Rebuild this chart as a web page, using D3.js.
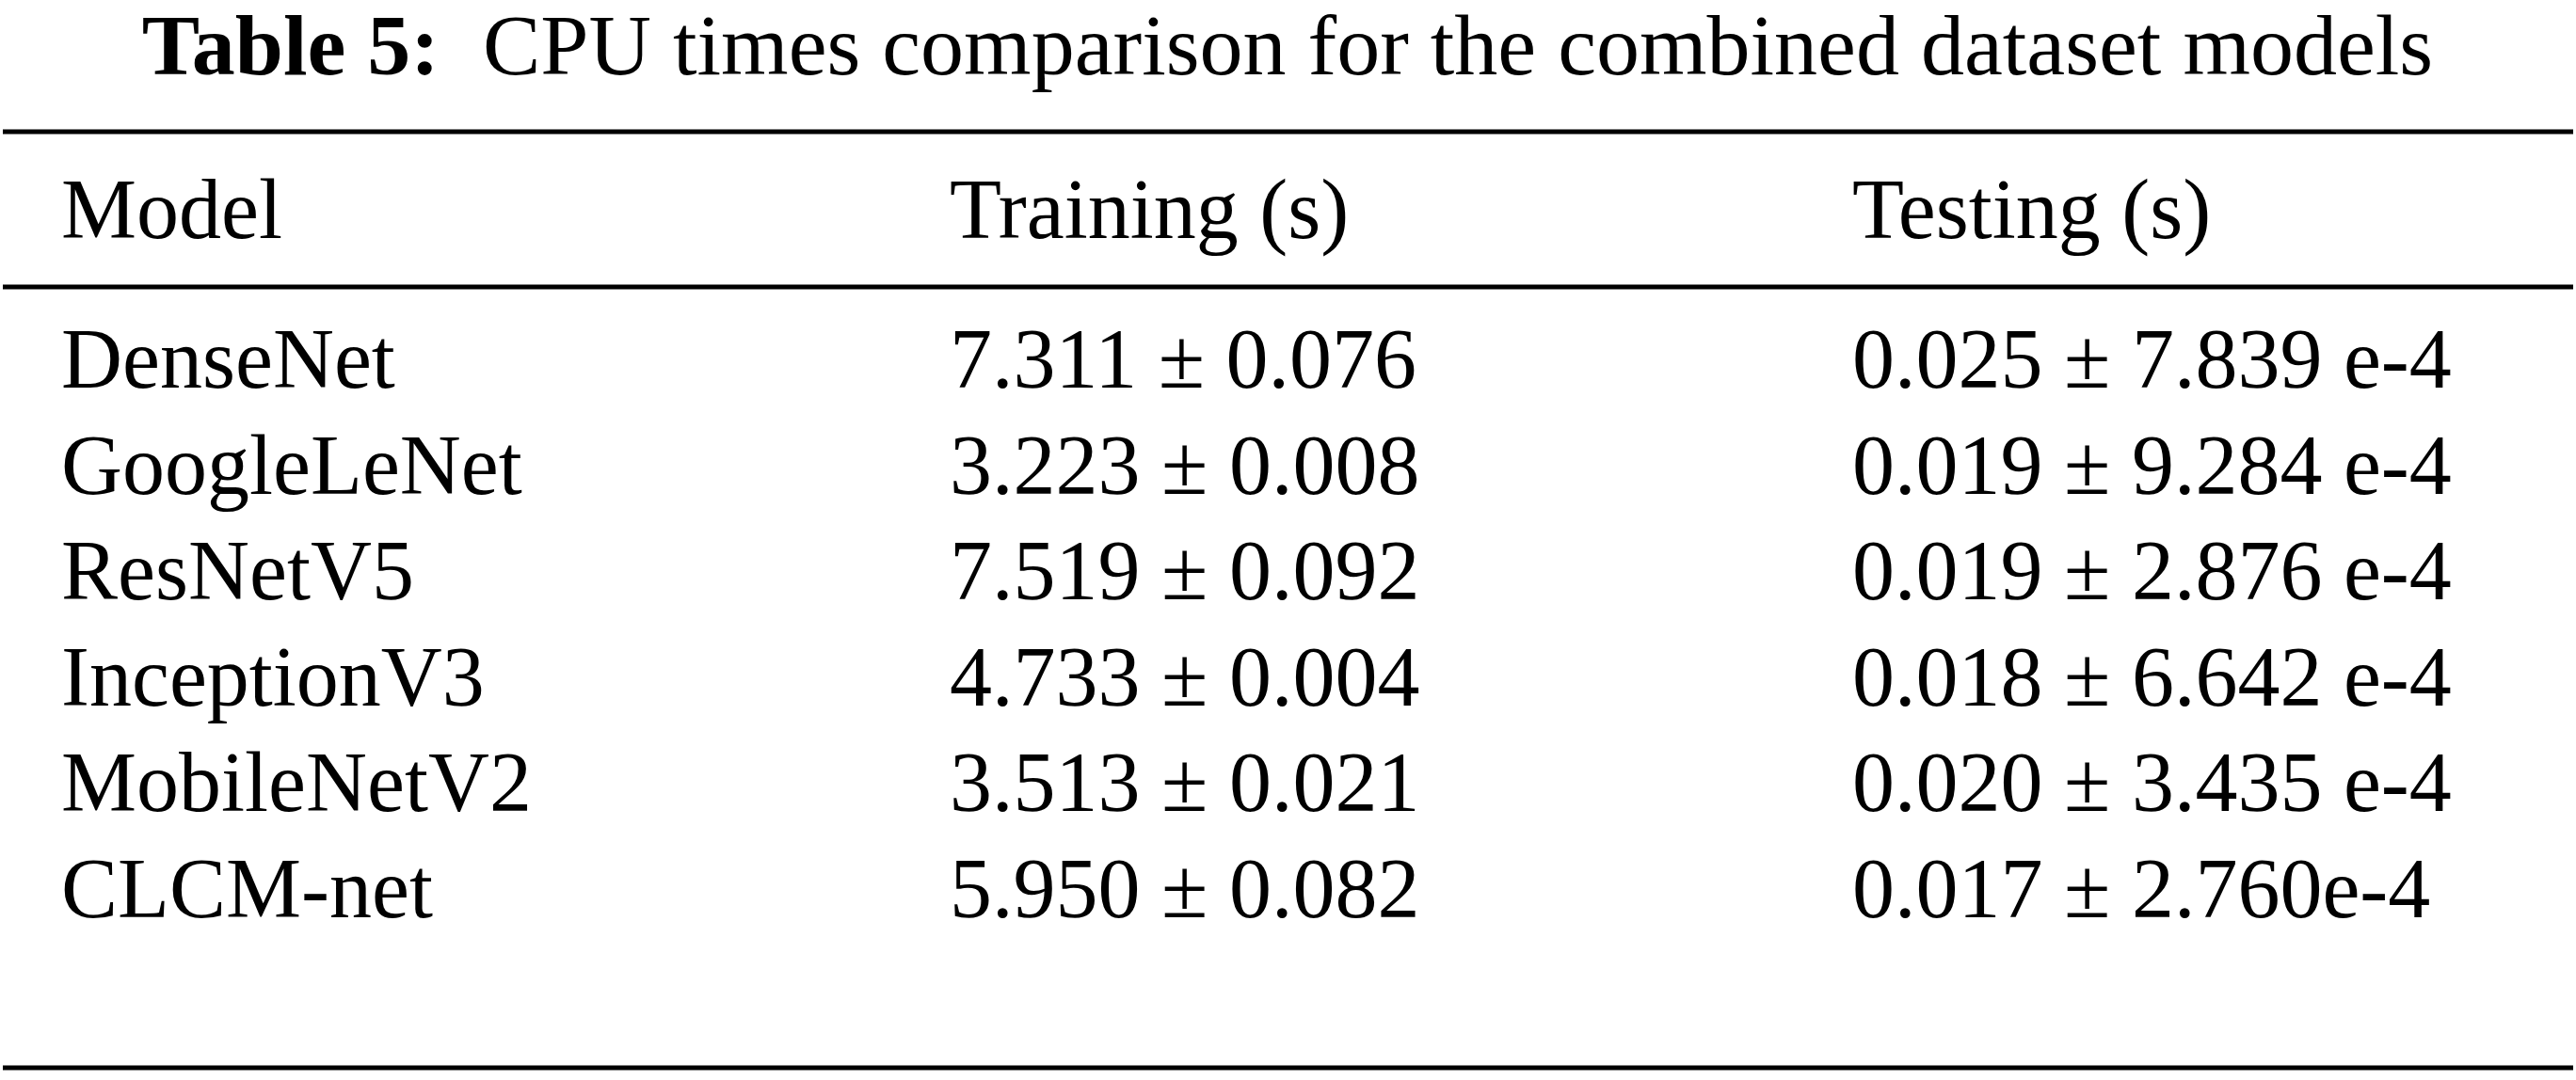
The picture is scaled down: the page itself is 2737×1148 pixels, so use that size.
<!DOCTYPE html>
<html><head><meta charset="utf-8">
<script src="https://cdn.jsdelivr.net/npm/d3@7"></script>
<style>body{margin:0;background:#fff}</style></head>
<body><svg width="2737" height="1148"></svg>
<script>
const title = "CPU times comparison for the combined dataset models";
const headers = ["Model", "Training (s)", "Testing (s)"];
const models = ["DenseNet", "GoogleLeNet", "ResNetV5", "InceptionV3", "MobileNetV2", "CLCM-net"];
const training = ["7.311 ± 0.076", "3.223 ± 0.008", "7.519 ± 0.092", "4.733 ± 0.004", "3.513 ± 0.021", "5.950 ± 0.082"];
const testing = ["0.025 ± 7.839 e-4", "0.019 ± 9.284 e-4", "0.019 ± 2.876 e-4", "0.018 ± 6.642 e-4", "0.020 ± 3.435 e-4", "0.017 ± 2.760e-4"];

const svg = d3.select("svg");
const font = "'Liberation Serif', 'Times New Roman', serif";
const rows = models.map((m, i) => [m, training[i], testing[i]]);

// column and row scales
const x = d3.scaleOrdinal().domain(headers).range([65, 1009, 1968]);
const y = d3.scalePoint().domain(d3.range(rows.length)).range([412, 975]);

const t = svg.append("text")
    .attr("x", 1368).attr("y", 79)
    .attr("text-anchor", "middle")
    .attr("font-family", font).attr("font-size", 92);
t.append("tspan").attr("font-weight", "bold").text("Table 5:");
t.append("tspan").text("\u00a0 " + title);

// rules
[[140, 5], [305, 5], [1135, 5]].forEach(([yy, w]) => {
    svg.append("line").attr("x1", 3).attr("x2", 2734)
        .attr("y1", yy).attr("y2", yy)
        .attr("stroke", "#000").attr("stroke-width", w);
});

svg.selectAll("text.h").data(headers).enter().append("text")
    .attr("class", "h")
    .attr("x", d => x(d)).attr("y", 253)
    .attr("font-family", font).attr("font-size", 90)
    .text(d => d);

svg.selectAll("g.row").data(rows).enter().append("g")
    .attr("transform", (d, i) => `translate(0,${y(i)})`)
    .selectAll("text").data(d => d).enter().append("text")
    .attr("x", (d, j) => x(headers[j]))
    .attr("font-family", font).attr("font-size", 90)
    .text(d => d);
</script></body></html>
